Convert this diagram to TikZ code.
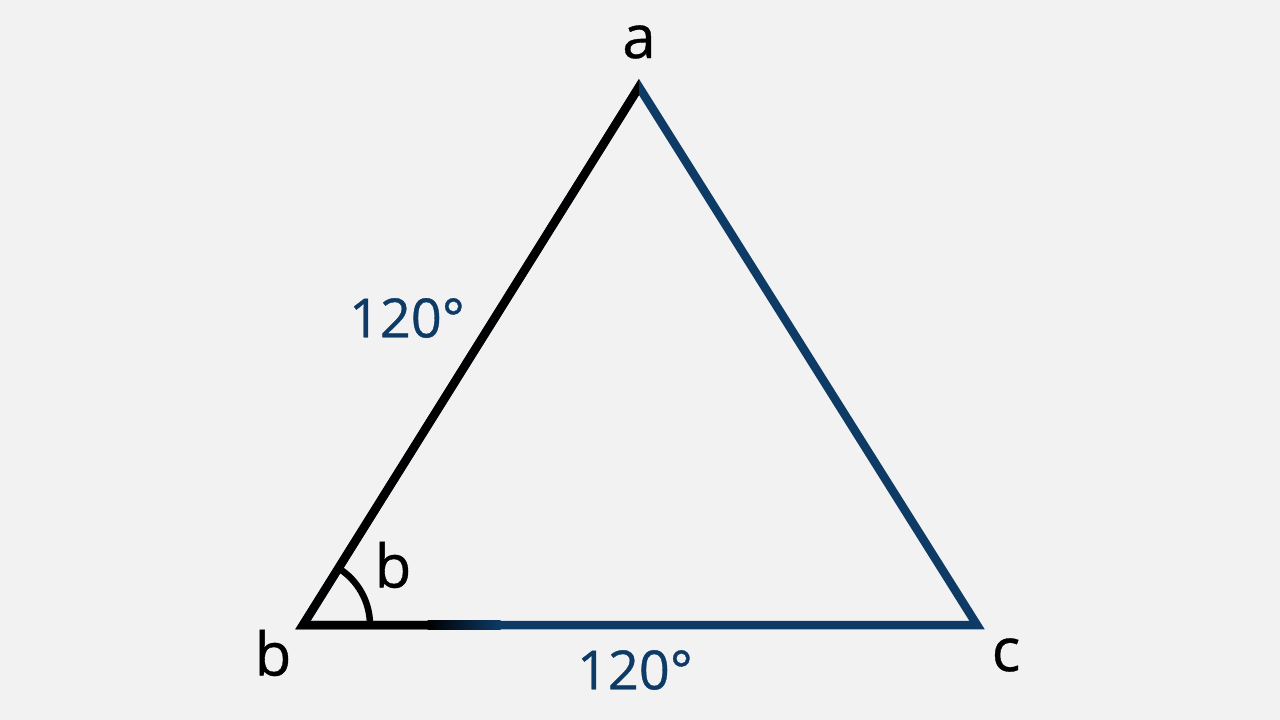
\documentclass[tikz,border=0pt]{standalone}
\usepackage{fontspec}
\setmainfont{Open Sans}
\newfontfamily\lblfont{Open Sans}[FakeBold=0.6]
\definecolor{bg}{RGB}{242,242,242}
\definecolor{navy}{RGB}{14,58,102}
\begin{document}
\begin{tikzpicture}[x=1pt,y=-1pt,
  edge/.style={line width=8.5pt,line join=miter,miter limit=20},
  vlabel/.style={font=\fontsize{60}{64}\lblfont,text=black,inner sep=0pt},
  alabel/.style={font=\fontsize{54}{58}\lblfont,text=navy,inner sep=0pt}]
\fill[bg] (0,0) rectangle (1280,720);
\useasboundingbox (0,0) rectangle (1280,720);
\coordinate (A) at (639,87);
\coordinate (B) at (303,625);
\coordinate (C) at (977,625);
\coordinate (M1) at (428,625);
\coordinate (M2) at (500,625);
% blue triangle
\draw[edge,navy] (A) -- (C) -- (B) -- cycle;
% black part
\begin{scope}
\clip (0,0) -- (639,0) -- (639,400) -- (428,600) -- (428,720) -- (0,720) -- cycle;
\draw[edge,black] (A) -- (C) -- (B) -- cycle;
\end{scope}
\shade[left color=black,right color=navy] ([yshift=-4.25pt,xshift=-0.5pt]M1) rectangle ([yshift=4.25pt,xshift=0.5pt]M2);
% angle arc
\draw[line width=6.5pt,black] ([xshift=67pt]B) arc[start angle=0,end angle=58,radius=67pt];
% labels
\node[vlabel] (la) at (639,42) {a};
\node[vlabel] (lb) at (273,653) {b};
\node[vlabel] (lc) at (1006,655) {c};
\node[vlabel] (lang) at (393,565) {b};
\node[alabel] (l1) at (407,318) {120°};
\node[alabel] (l2) at (635,670) {120°};
\end{tikzpicture}
\end{document}
